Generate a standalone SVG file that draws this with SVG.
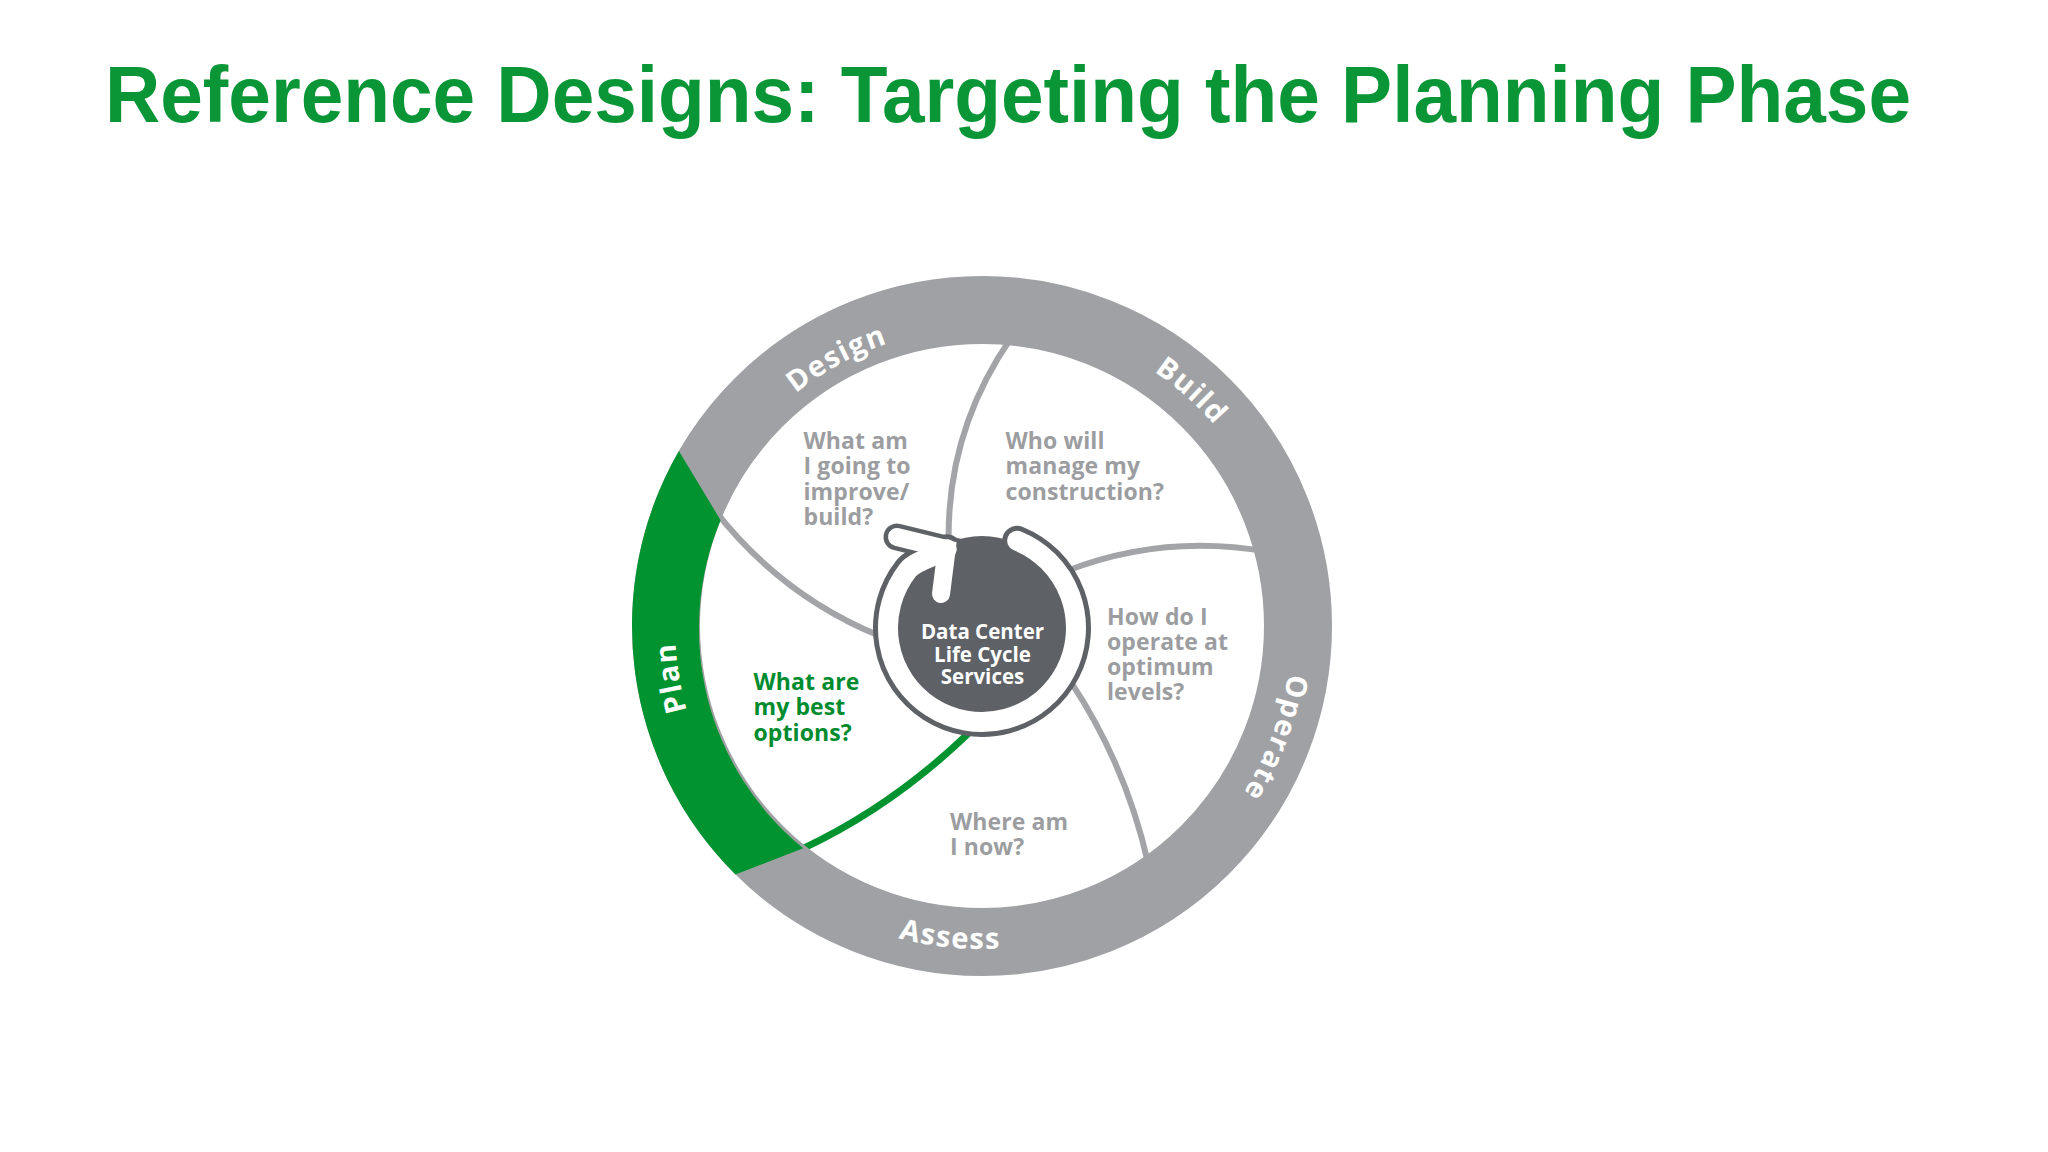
<svg xmlns="http://www.w3.org/2000/svg" width="2048" height="1152" viewBox="0 0 2048 1152">
  <defs>
    <style>
      .title { font-family: "Liberation Sans", Arial, sans-serif; font-weight: 700; font-size: 80px; fill: #0a9636; }
      .ring-label { font-family: "Open Sans", "Noto Sans", sans-serif; font-weight: 700; font-size: 29px; fill: #ffffff; letter-spacing: 1.5px; }
      .q { font-family: "Open Sans", "Noto Sans", sans-serif; font-weight: 700; font-size: 23px; fill: #9c9da0; letter-spacing: 0.1px; }
      .q-green { fill: #008c2e; }
      .center-text { font-family: "Open Sans", "Noto Sans", sans-serif; font-weight: 700; font-size: 20.5px; fill: #ffffff; text-anchor: middle; }
      .divider { fill: none; stroke: #a3a4a7; stroke-width: 6; stroke-linecap: round; }
      .divider-green { fill: none; stroke: #00932f; stroke-width: 7; stroke-linecap: butt; }
      .arrow-outline { fill: none; stroke: #5e6166; }
      .arrow-fill { fill: none; stroke: #ffffff; }
    </style>
    <path id="p-design" d="M 704.7 516.8 A 298 298 0 0 1 1041.4 334.0"/>
    <path id="p-build" d="M 991.1 319.1 A 307 307 0 0 1 1285.8 581.7"/>
    <path id="p-operate" d="M 1274.8 524.05 A 310 310 0 0 1 1133.2 896.6"/>
    <path id="p-plan" d="M 782.6 859.4 A 307 307 0 0 1 717.5 470.2"/>
    <path id="p-assess" d="M 750.4 851.2 A 323 323 0 0 0 1163.5 893.2"/>
  </defs>

  <rect x="0" y="0" width="2048" height="1152" fill="#ffffff"/>

  <g id="title">
    <text class="title" x="105" y="122" textLength="1806" lengthAdjust="spacingAndGlyphs">Reference Designs: Targeting the Planning Phase</text>
  </g>

  <g id="connectors">
    <path id="div-top" class="divider" d="M 948.6 538 Q 948 429.5 1010.7 338.5"/>
    <path id="div-right-upper" class="divider" d="M 1065.8 571.2 Q 1163.1 533.4 1267.9 551.7"/>
    <path id="div-right-lower" class="divider" d="M 1070.6 681.6 Q 1126.4 765.5 1148.7 865.8"/>
    <path id="div-left" class="divider" d="M 880.7 636.3 Q 780.8 595.7 713.9 509.1"/>
    <path id="div-plan" class="divider-green" d="M 969.1 732.8 Q 892.4 806.5 803.3 848.3"/>
  </g>

  <g id="ring">
    <circle cx="982" cy="626" r="316" fill="none" stroke="#a0a1a4" stroke-width="68"/>
  </g>

  <g id="node-plan">
    <path d="M 678.9 451 A 350 350 0 0 0 735.4 874.4 L 803.3 848.3 A 283 283 0 0 1 720.6 520.2 Z" fill="#00932f"/>
    <text class="ring-label"><textPath href="#p-plan" startOffset="50%" text-anchor="middle">Plan</textPath></text>
    <text class="q q-green" x="753.5" y="689.5"><tspan x="753.5">What are</tspan><tspan x="753.5" dy="25.5">my best</tspan><tspan x="753.5" dy="25.5">options?</tspan></text>
  </g>

  <g id="node-design">
    <text class="ring-label"><textPath href="#p-design" startOffset="50%" text-anchor="middle">Design</textPath></text>
    <text class="q" x="803.5" y="448.5"><tspan x="803.5">What am</tspan><tspan x="803.5" dy="25.5">I going to</tspan><tspan x="803.5" dy="25.5">improve/</tspan><tspan x="803.5" dy="25.5">build?</tspan></text>
  </g>

  <g id="node-build">
    <text class="ring-label"><textPath href="#p-build" startOffset="50%" text-anchor="middle">Build</textPath></text>
    <text class="q" x="1005.5" y="448.5"><tspan x="1005.5">Who will</tspan><tspan x="1005.5" dy="25.5">manage my</tspan><tspan x="1005.5" dy="25.5">construction?</tspan></text>
  </g>

  <g id="node-operate">
    <text class="ring-label"><textPath href="#p-operate" startOffset="50%" text-anchor="middle">Operate</textPath></text>
    <text class="q" x="1107" y="624.5"><tspan x="1107">How do I</tspan><tspan x="1107" dy="25">operate at</tspan><tspan x="1107" dy="25">optimum</tspan><tspan x="1107" dy="25">levels?</tspan></text>
  </g>

  <g id="node-assess">
    <text class="ring-label"><textPath href="#p-assess" startOffset="50%" text-anchor="middle">Assess</textPath></text>
    <text class="q" x="950" y="829.5"><tspan x="950">Where am</tspan><tspan x="950" dy="25.5">I now?</tspan></text>
  </g>

  <g id="node-center">
    <path class="arrow-outline" stroke-width="30" stroke-linecap="round" stroke-linejoin="round" d="M 1017.2 540.8 A 94 94 0 1 1 907.9 570.1 C 915.3 560.6 936.8 556.0 946.7 549.2"/>
    <path class="arrow-outline" stroke-width="27" stroke-linecap="round" stroke-linejoin="miter" d="M 897 537 L 946.7 549.2 L 941 594"/>
    <circle cx="982" cy="622" r="86" fill="#5e6166"/>
    <path class="arrow-fill" stroke-width="20" stroke-linecap="round" stroke-linejoin="round" d="M 1017.2 540.8 A 94 94 0 1 1 907.9 570.1 C 915.3 560.6 936.8 556.0 946.7 549.2"/>
    <path class="arrow-fill" stroke-width="18" stroke-linecap="round" stroke-linejoin="miter" d="M 897 537 L 946.7 549.2 L 941 594"/>
    <text class="center-text" x="982.5" y="638.5"><tspan x="982.5">Data Center</tspan><tspan x="982.5" dy="23">Life Cycle</tspan><tspan x="982.5" dy="22">Services</tspan></text>
  </g>
</svg>
